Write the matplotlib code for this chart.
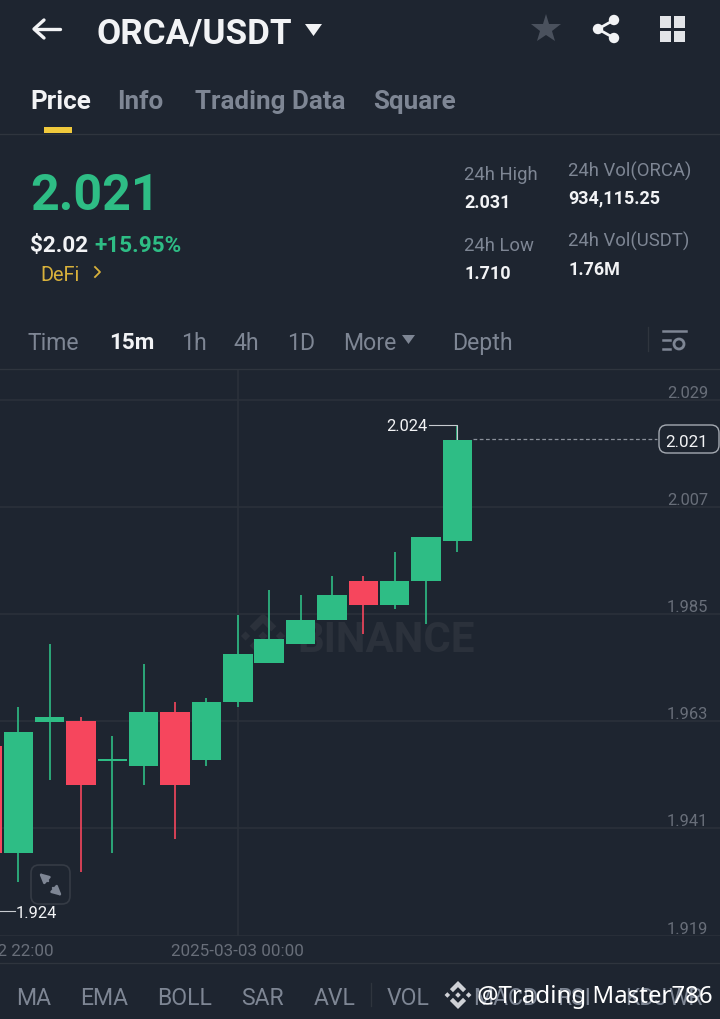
import numpy as np
import matplotlib
matplotlib.use("Agg")
import matplotlib.pyplot as plt
from matplotlib.patches import Polygon, Rectangle, Circle, FancyBboxPatch

# candle values, first candle sits just off the left edge
opens = [1.9580, 1.9360, 1.9629, 1.9630, 1.9549, 1.9539, 1.9650, 1.9550, 1.9670, 1.9749, 1.9789, 1.9839, 1.9919, 1.9870, 1.9919, 2.0000]
closes = [1.9360, 1.9609, 1.9639, 1.9500, 1.9553, 1.9650, 1.9500, 1.9670, 1.9769, 1.9799, 1.9839, 1.9889, 1.9870, 1.9919, 2.0009, 2.0209]
highs = [1.9600, 1.9659, 1.9789, 1.9639, 1.9599, 1.9748, 1.9670, 1.9679, 1.9848, 1.9899, 1.9889, 1.9929, 1.9929, 1.9978, 2.0009, 2.0240]
lows = [1.9240, 1.9300, 1.9510, 1.9320, 1.9360, 1.9500, 1.9389, 1.9539, 1.9659, 1.9749, 1.9789, 1.9839, 1.9809, 1.9860, 1.9830, 1.9979]

y_ticks = [2.029, 2.007, 1.985, 1.963, 1.941, 1.919]
time_labels = ["2025-03-02 22:00", "2025-03-03 00:00"]
time_index = [0, 8]
last_price = 2.021
high_mark = 2.024
low_mark = 1.924

indicators_left = ["MA", "EMA", "BOLL", "SAR", "AVL"]
indicators_right = ["VOL", "MACD", "RSI", "KDJ", "WR"]
intervals = ["Time", "15m", "1h", "4h", "1D", "More", "Depth"]
tabs = ["Price", "Info", "Trading Data", "Square"]

BG = "#1e2530"
GRID = "#2b313a"
LINE = "#2f353e"
GREEN = "#2ebd85"
RED = "#f6465d"
GRAY = "#7e8694"
DIM = "#686e79"
WHITE = "#f2f3f5"
YELLOW = "#f0c93c"

plt.rcParams["font.family"] = ["Roboto", "DejaVu Sans"]


def px(size):
    # font size given in screen pixels
    return size * 0.72


def put(x, y, label, size, color, **kw):
    # y is the middle of the capitals, va=center would sit a bit too high
    ui.text(x, y + size * 0.09, label, color=color, fontsize=px(size), va="center", ha="left", **kw)


def logo(ax, cx, cy, r, color, zorder=2):
    """Binance mark: centre diamond, two side diamonds, top and bottom chevrons."""
    s = r * 0.2
    for dx, dy in ((0, 0), (-r * 0.76, 0), (r * 0.76, 0)):
        ax.add_patch(Polygon([(cx + dx - s, cy + dy), (cx + dx, cy + dy - s), (cx + dx + s, cy + dy), (cx + dx, cy + dy + s)],
                             color=color, lw=0, zorder=zorder))
    for sign in (-1, 1):
        ax.add_patch(Polygon([(cx, cy + sign * r), (cx + r * 0.58, cy + sign * r * 0.42), (cx + r * 0.36, cy + sign * r * 0.2),
                              (cx, cy + sign * r * 0.56), (cx - r * 0.36, cy + sign * r * 0.2), (cx - r * 0.58, cy + sign * r * 0.42)],
                             color=color, lw=0, zorder=zorder))


def caret(ax, x0, x1, y0, y1, color):
    ax.add_patch(Polygon([(x0, y0), (x1, y0), ((x0 + x1) / 2, y1)], color=color, lw=0, joinstyle="round"))


fig = plt.figure(figsize=(7.2, 10.2), dpi=100, facecolor=BG)

# page layer in screen pixels, sits under the chart
ui = fig.add_axes([0, 0, 1, 1], zorder=0)
ui.set_xlim(0, 720)
ui.set_ylim(1020, 0)
ui.axis("off")

# header
ui.plot([35, 60], [30, 30], color=WHITE, lw=2.4, solid_capstyle="round")
ui.plot([44, 34, 44], [21, 30, 39], color=WHITE, lw=2.4, solid_capstyle="round", solid_joinstyle="round")
put(97, 31, "ORCA/USDT", 35, WHITE, fontweight="bold")
caret(ui, 305, 322, 25, 37, WHITE)
ui.plot([546], [30], marker="*", ms=22, color="#4a515d", mew=0)
for nx, ny in ((598, 30), (614, 21), (614, 39)):
    ui.add_patch(Circle((nx, ny), 5.2, color=WHITE, lw=0))
ui.plot([614, 598, 614], [21, 30, 39], color=WHITE, lw=2)
for gx, gy, gw, gh in ((660, 17, 11, 12), (674, 17, 11, 12), (660, 32, 11, 11), (674, 32, 11, 11)):
    ui.add_patch(Rectangle((gx, gy), gw, gh, color="#e3e5e8", lw=0))

# tabs
for label, x, color in zip(tabs, [30, 117, 195, 373], [WHITE, GRAY, GRAY, GRAY]):
    put(x, 100, label, 26, color, fontweight="bold")
ui.add_patch(Rectangle((44, 128), 28, 6, color=YELLOW, lw=0))
ui.plot([0, 720], [134.5, 134.5], color=LINE, lw=0.9)

# price block
put(30, 192, "2.021", 50, GREEN, fontweight="bold")
put(30, 244, "$2.02", 22.5, WHITE, fontweight="bold")
put(94, 244, "+15.95%", 22.5, GREEN, fontweight="bold")
put(40, 274, "DeFi", 20, "#d8b13b")
ui.plot([95, 100, 95], [268, 273, 278], color="#d8b13b", lw=1.3)
for x, y, label, color, size in (
    (464, 173, "24h High", GRAY, 18.5), (464, 201, "2.031", WHITE, 18), (464, 244, "24h Low", GRAY, 18.5), (464, 272, "1.710", WHITE, 18),
    (568, 170, "24h Vol(ORCA)", GRAY, 18.5), (568, 197, "934,115.25", WHITE, 18), (568, 240, "24h Vol(USDT)", GRAY, 18.5), (568, 268, "1.76M", WHITE, 18),
):
    put(x, y, label, size, color, fontweight="bold" if color == WHITE else "normal")

# interval row
for label, x in zip(intervals, [28, 109, 181, 233, 287, 343, 452]):
    if label == "15m":
        put(x, 341, label, 22.5, WHITE, fontweight="bold")
    else:
        put(x, 341, label, 23, GRAY)
caret(ui, 402, 415, 336, 345, GRAY)
ui.plot([647.5, 647.5], [328, 352], color=LINE, lw=0.9)
ui.plot([663, 686], [332, 332], color=GRAY, lw=1.8)
ui.plot([663, 670], [341, 341], color=GRAY, lw=1.8)
ui.plot([663, 670], [350, 350], color=GRAY, lw=1.8)
ui.add_patch(Circle((679, 345), 5, fc="none", ec=GRAY, lw=2))
ui.plot([0, 720], [369.5, 369.5], color=LINE, lw=0.9)

# watermark
logo(ui, 263, 637, 23, "#2b313b")
put(297, 637, "BINANCE", 42, "#2b313b", fontweight="bold")

# expand button
ui.add_patch(FancyBboxPatch((35, 870), 31, 31, boxstyle="round,pad=4,rounding_size=8", fc="none", ec="#353b45", lw=1.2))
ui.annotate("", xy=(39, 874), xytext=(48, 882), arrowprops=dict(arrowstyle="-|>", color=GRAY, lw=1.8, mutation_scale=14, shrinkA=0, shrinkB=0))
ui.annotate("", xy=(62, 897), xytext=(53, 889), arrowprops=dict(arrowstyle="-|>", color=GRAY, lw=1.8, mutation_scale=14, shrinkA=0, shrinkB=0))

# bottom indicator bar
ui.plot([0, 720], [963.5, 963.5], color=LINE, lw=0.9)
for label, x in zip(indicators_left, [16, 80, 157, 241, 314]):
    put(x, 996, label, 23, GRAY)
ui.plot([370.5, 370.5], [984, 1007], color=LINE, lw=0.9)
for label, x in zip(indicators_right, [387, 473, 557, 625, 668]):
    put(x, 996, label, 23, GRAY)
logo(ui, 458, 996, 14, "#cfd1d6", zorder=5)
ui.text(477, 997, "@Trading Master786", color="#ffffff", fontsize=px(24), va="center", ha="left", zorder=6,
        family=["Noto Sans", "DejaVu Sans"])

# chart layer
ax = fig.add_axes([0, 1 - 937 / 1020, 1, 566 / 1020], zorder=1)
ax.patch.set_alpha(0)
ax.set_xlim(0.4176, 23.37)
ax.set_ylim(1.9189, 2.0352)
for spine in ax.spines.values():
    spine.set_visible(False)

idx = np.arange(len(opens))
o = np.array(opens)
c = np.array(closes)
colors = np.where(c >= o, GREEN, RED)

ax.set_axisbelow(True)
ax.set_yticks(y_ticks)
ax.set_yticklabels([f"{v:.3f}" for v in y_ticks])
ax.set_xticks([])
ax.grid(True, axis="y", color=GRID, lw=1.2)
ax.axvline(time_index[1], color=GRID, lw=1.2, zorder=0)
ax.tick_params(axis="y", length=0, labelleft=False, labelright=True, pad=-8.3, labelsize=px(16.5), labelcolor=DIM)
for t in ax.get_yticklabels():
    t.set_ha("right")
    t.set_va("bottom")

ax.vlines(idx, lows, highs, colors=colors, lw=1.2, zorder=2)
ax.bar(idx, np.abs(c - o), bottom=np.minimum(o, c), width=0.94, color=colors, lw=0, zorder=3)

for i, label in zip(time_index, time_labels):
    ax.text(i, -0.0265, label, transform=ax.get_xaxis_transform(), color=DIM, fontsize=px(17), ha="center", va="center", clip_on=False)

# last price line and pill
ax.plot([15.5, 21.35], [last_price, last_price], color="#8a909a", lw=0.9, ls=(0, (3, 2)), zorder=2)
ax.annotate(f"{last_price:.3f}", (22.32, last_price), xytext=(0, -1.5), textcoords="offset points", color=WHITE,
            fontsize=px(17), ha="center", va="center", zorder=5)
ui.add_patch(FancyBboxPatch((662, 429), 54, 22, boxstyle="round,pad=3,rounding_size=8", fc=BG, ec="#a5aab2", lw=1))

# high and low marks
ax.plot([14.1, 15, 15], [high_mark, high_mark, 2.0209], color="#c8cbd0", lw=0.8, zorder=2)
ax.annotate(f"{high_mark:.3f}", (14.06, high_mark), xytext=(0, -1), textcoords="offset points", color=WHITE,
            fontsize=px(16.5), ha="right", va="center")
ax.plot([0.4, 0.89], [low_mark, low_mark], color="#c8cbd0", lw=0.8, zorder=2)
ax.annotate(f"{low_mark:.3f}", (0.93, low_mark), xytext=(0, -1), textcoords="offset points", color=WHITE,
            fontsize=px(16.5), ha="left", va="center")

fig.savefig("out.png", dpi=100, facecolor=BG)
